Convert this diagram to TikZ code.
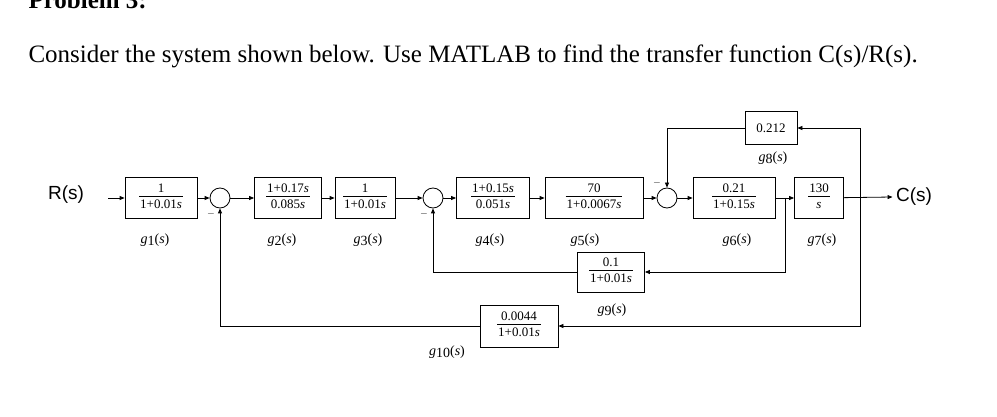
\documentclass[tikz,border=0pt]{standalone}
\usepackage{fontspec}
\setmainfont{Liberation Serif}
\newfontfamily\arialf{Liberation Sans}
\usetikzlibrary{arrows.meta}
\newcommand{\fr}[2]{{\setlength{\tabcolsep}{1pt}\renewcommand{\arraystretch}{0.95}\begin{tabular}{c}#1\\\hline\rule{0pt}{12pt}#2\end{tabular}}}
\newcommand{\gl}[1]{\textit{g}\raisebox{-2.5pt}{#1}(\textit{s})}
\begin{document}
\begin{tikzpicture}[x=1pt,y=-1pt,
  blk/.style={draw,line width=0.8pt,inner sep=0pt,font=\fontsize{13}{14}\selectfont},
  sumn/.style={draw,circle,line width=0.8pt,minimum size=20pt,inner sep=0pt},
  lab/.style={font=\fontsize{14}{15}\selectfont},
  ar/.style={line width=0.8pt,-{Triangle[length=5pt,width=4pt]}},
  bx/.style 2 args={blk,minimum width=#1pt,minimum height=#2pt}]
\useasboundingbox (0,0) rectangle (997,417);
\clip (0,0) rectangle (997,417);
\node[anchor=base west,font=\fontsize{25}{27}\selectfont\bfseries] (title) at (25,9) {Problem 3:};
\node[anchor=base west,font=\fontsize{25}{27}\selectfont] (q) at (25,63) {Consider the system shown below. Use MATLAB to find the transfer function C(s)/R(s).};
\node[font=\arialf\fontsize{19}{20}\selectfont] (R) at (66,195) {R(s)};
\node[font=\arialf\fontsize{19}{20}\selectfont] (C) at (914,197) {C(s)};
\node[bx={72}{41}] (g1) at (161,198) {\fr{1}{1+0.01\textit{s}}};
\node[sumn] (s1) at (220,198) {};
\node[bx={67}{41}] (g2) at (288,198) {\fr{1+0.17\textit{s}}{0.085\textit{s}}};
\node[bx={60}{41}] (g3) at (365,198) {\fr{1}{1+0.01\textit{s}}};
\node[sumn] (s2) at (433,198) {};
\node[bx={73}{41}] (g4) at (493,198) {\fr{1+0.15\textit{s}}{0.051\textit{s}}};
\node[bx={98}{41}] (g5) at (594,198) {\fr{70}{1+0.0067\textit{s}}};
\node[sumn] (s3) at (667,198) {};
\node[bx={82}{41}] (g6) at (734,198) {\fr{0.21}{1+0.15\textit{s}}};
\node[bx={49}{41}] (g7) at (819,198) {\fr{130}{\textit{s}}};
\node[bx={52}{33}] (g8) at (771,128) {0.212};
\node[bx={67}{40}] (g9) at (611,272) {\fr{0.1}{1+0.01\textit{s}}};
\node[bx={78}{42}] (g10) at (519,326) {\fr{0.0044}{1+0.01\textit{s}}};
\foreach \n/\k/\x/\y in {g1/1/155/240,g2/2/282/240,g3/3/368/240,g4/4/490/240,g5/5/585/240,g6/6/737/240,g7/7/822/240,g8/8/773/158,g9/9/612/310}{
  \node[lab] (l\n) at (\x,\y) {\gl{\k}};}
\node[lab] (lg10) at (447,352) {\gl{10}};
\node (m1) at (211,214) {$-$};
\node (m2) at (424,214) {$-$};
\node (m3) at (657,183) {$-$};
\coordinate (b1) at (785,198);
\coordinate (b2) at (860,198);
\coordinate (rin) at (108,198);
\draw[ar] (rin) -- (g1.west);
\draw[ar] (g1) -- (s1);
\draw[ar] (s1) -- (g2);
\draw[ar] (g2) -- (g3);
\draw[ar] (g3) -- (s2);
\draw[ar] (s2) -- (g4);
\draw[ar] (g4) -- (g5);
\draw[ar] (g5) -- (s3);
\draw[ar] (s3) -- (g6);
\draw[ar] (g6) -- (g7);
\draw[ar] (g7) -- (C.west);
\draw[ar] (b1) |- (g9.east);
\draw[ar] (g9.west) -| (s2.south);
\draw[ar] (b2) |- (g8.east);
\draw[ar] (g8.west) -| (s3.north);
\draw[ar] (b2) |- (g10.east);
\draw[ar] (g10.west) -| (s1.south);
\end{tikzpicture}
\end{document}
